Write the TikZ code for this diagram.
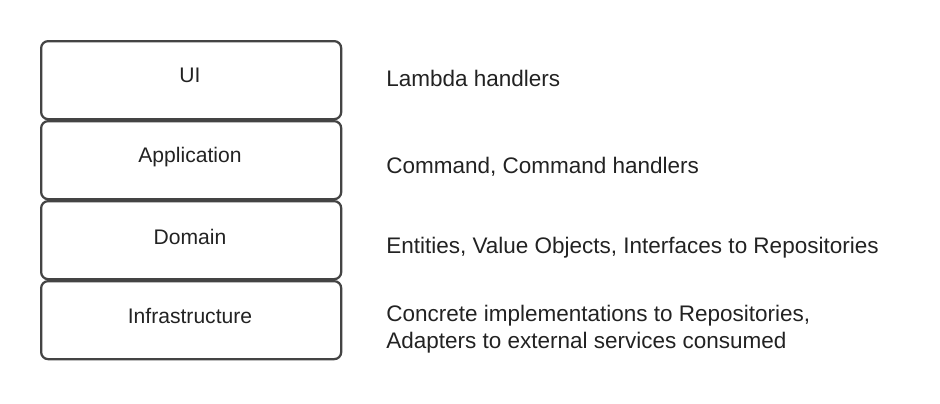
\documentclass[tikz,border=0pt]{standalone}
\usepackage{fontspec}
\setmainfont{Liberation Sans}
\definecolor{edgegray}{HTML}{444444}
\definecolor{textgray}{HTML}{222222}
\tikzset{
  layer/.style={draw=edgegray, line width=1.6pt, rounded corners=5pt, minimum width=7.5cm, minimum height=1.95cm, anchor=north west, inner sep=0pt},
  layername/.style={text=textgray, font=\fontsize{15pt}{17pt}\selectfont},
  note/.style={text=textgray, anchor=west, align=left, font=\fontsize{16pt}{19pt}\selectfont, inner sep=0pt}
}
\begin{document}
\begin{tikzpicture}[x=0.025cm, y=-0.025cm]
  \useasboundingbox (0,0) rectangle (940,403);

  \node[layer] (ui)    at (40,40)  {};
  \node[layer] (app)   at (40,120) {};
  \node[layer] (dom)   at (40,200) {};
  \node[layer] (infra) at (40,280) {};

  \node[layername] (uiname)    at (190,75)  {UI};
  \node[layername] (appname)   at (190,157) {Application};
  \node[layername] (domname)   at (190,237) {Domain};
  \node[layername] (infraname) at (190,316) {Infrastructure};

  \node[note] (uinote)    at (386,78)  {Lambda handlers};
  \node[note] (appnote)   at (386,167) {Command, Command handlers};
  \node[note] (domnote)   at (386,248) {Entities, Value Objects, Interfaces to Repositories};
  \node[note] (infranote) at (386,329) {Concrete implementations to Repositories,\\Adapters to external services consumed};
\end{tikzpicture}
\end{document}
